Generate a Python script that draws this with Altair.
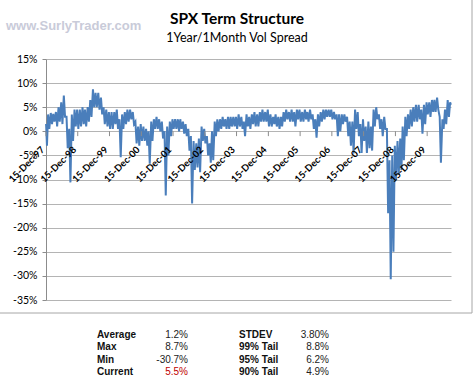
import altair as alt
import pandas as pd

# ---- data (spread in %, monthly high / low) ----
# Dec-1997, then Jan..Dec 1998 .. 2009, then Jan..Sep 2010
month_high = [
    1.5,
    3.5, 3.8, 3.6, 4.0, 5.0, 6.0, 7.4, 3.0, 0.5, 3.5, 4.5, 4.5,      # 1998
    4.5, 5.0, 4.5, 5.0, 6.5, 8.7, 8.0, 8.0, 7.0, 5.0, 4.5, 4.0,      # 1999
    4.0, 4.0, 4.5, 2.5, 3.5, 4.0, 4.5, 4.5, 4.0, 2.0, 1.0, 1.5,      # 2000
    1.0, 0.5, 0.0, 2.0, 2.5, 3.0, 2.5, 2.0, 0.0, 1.0, 2.0, 2.5,      # 2001
    2.5, 2.5, 2.5, 2.0, 1.5, 0.5, -1.0, -2.0, -2.5, -1.5, 1.0, 0.5,  # 2002
    -1.0, -2.5, 0.0, 2.0, 2.5, 2.5, 3.0, 2.5, 3.0, 3.0, 3.0, 3.0,    # 2003
    3.5, 3.0, 2.0, 3.5, 3.0, 3.5, 4.0, 3.5, 4.0, 4.5, 4.0, 4.5,      # 2004
    3.5, 3.0, 3.5, 3.0, 3.0, 4.0, 4.5, 4.0, 4.5, 4.0, 4.5, 4.5,      # 2005
    4.0, 4.5, 4.0, 4.5, 3.5, 2.5, 3.5, 4.0, 4.5, 4.5, 4.5, 4.5,      # 2006
    4.0, 3.5, 3.5, 3.5, 3.5, 3.0, 2.0, 2.0, 4.5, 4.0, 1.5, 2.5,      # 2007
    1.0, 2.0, 1.0, 4.5, 5.0, 3.5, 2.5, 3.0, 0.5, -6.0, -5.0, -3.0,   # 2008
    -2.0, -1.5, 1.0, 3.0, 3.5, 4.5, 5.0, 5.5, 5.5, 4.5, 5.5, 6.0,    # 2009
    6.0, 6.5, 6.5, 7.0, 3.0, 2.5, 4.5, 6.5, 6.0,                     # 2010
]
month_low = [
    -3.0,
    0.5, 1.5, 2.0, 1.0, 2.0, 1.5, 3.0, -3.5, -10.6, -2.0, 1.0, 0.5,   # 1998
    1.0, 1.5, 1.0, 2.0, 3.0, 5.0, 5.0, 4.5, 3.5, 1.5, 1.0, 0.5,       # 1999
    0.5, 1.5, 0.5, -5.4, 0.5, 1.5, 2.0, 2.5, 1.5, -2.5, -3.0, -2.0,   # 2000
    -2.0, -3.0, -6.7, -2.0, 0.5, 0.5, 0.0, -1.5, -13.3, -5.0, -1.0, 0.5,  # 2001
    0.5, 0.0, 0.5, -0.5, -1.0, -4.0, -15.0, -8.0, -7.5, -8.5, -2.0, -2.5,  # 2002
    -5.0, -6.5, -6.0, -1.0, 0.0, 0.5, 1.0, 0.5, 0.5, 1.0, 1.0, 0.5,   # 2003
    1.0, 0.5, -1.0, 1.0, 0.5, 1.5, 1.0, 1.0, 2.0, 2.0, 2.0, 1.0,      # 2004
    1.0, 1.5, 1.0, 0.5, 1.0, 2.0, 2.5, 2.0, 2.0, 1.0, 2.5, 2.0,       # 2005
    2.0, 2.5, 2.0, 2.5, 0.5, -1.3, 1.0, 2.0, 2.5, 3.0, 3.0, 2.5,      # 2006
    2.5, -1.0, 0.0, 1.5, 2.0, -1.0, -3.0, -4.6, 0.5, -1.0, -4.5, -2.0,  # 2007
    -4.5, -3.5, -4.0, 1.0, 2.5, 0.5, -1.0, 0.5, -17.0, -30.7, -25.0, -10.0,  # 2008
    -9.0, -8.0, -6.0, -1.0, 0.5, 1.0, 2.0, 2.0, 2.5, -0.5, 1.5, 3.5,  # 2009
    3.0, 4.0, 4.0, 4.5, -6.5, 0.5, 1.5, 3.0, 5.5,                     # 2010
]

tick_dates = ["1997-12-15", "1998-12-15", "1999-12-15", "2000-12-15", "2001-12-15",
              "2002-12-15", "2003-12-15", "2004-12-15", "2005-12-15", "2006-12-15",
              "2007-12-15", "2008-12-15", "2009-12-15"]
tick_labels = ["15-Dec-97", "15-Dec-98", "15-Dec-99", "15-Dec-00", "15-Dec-01",
               "15-Dec-02", "15-Dec-03", "15-Dec-04", "15-Dec-05", "15-Dec-06",
               "15-Dec-07", "15-Dec-08", "15-Dec-09"]
y_ticks = [15, 10, 5, 0, -5, -10, -15, -20, -25, -30, -35]

stat_left_names = ["Average", "Max", "Min", "Current"]
stat_left_values = ["1.2%", "8.7%", "-30.7%", "5.5%"]
stat_right_names = ["STDEV", "99% Tail", "95% Tail", "90% Tail"]
stat_right_values = ["3.80%", "8.8%", "6.2%", "4.9%"]

title_text = "SPX Term Structure"
subtitle_text = "1Year/1Month Vol Spread"
watermark_text = "www.SurlyTrader.com"

# ---- build table ----
rows = []
n = len(month_high)
for i, (hi, lo) in enumerate(zip(month_high, month_low)):
    yr = 1997 + (11 + i) // 12
    mo = (11 + i) % 12 + 1
    if i == 0:
        d1, d2 = 16, 26
    elif i == n - 1:
        d1, d2 = 5, 14
    else:
        d1, d2 = 8, 22
    rows.append({"date": f"{yr}-{mo:02d}-{d1:02d}", "spread": hi})
    rows.append({"date": f"{yr}-{mo:02d}-{d2:02d}", "spread": lo})
df = pd.DataFrame(rows)
ticks_df = pd.DataFrame({"date": tick_dates, "label": tick_labels,
                         "zero": [0] * len(tick_dates),
                         "down": [-1] * len(tick_dates)})

GRID = "#b4b4b4"
BLUE = "#4A7EBB"
FONT = "Lato"

x_scale = alt.Scale(domain=[alt.DateTime(year=1997, month=12, date=15),
                            alt.DateTime(year=2010, month=9, date=15)])
y_scale = alt.Scale(domain=[-35, 15], nice=False, zero=False)
y_axis = alt.Axis(values=y_ticks, tickCount=11,
                  labelExpr="datum.value + '%'",
                  labelOverlap=False, labelFlush=False,
                  grid=True, gridColor=GRID, gridWidth=1, gridOpacity=1,
                  domainColor="#8c8c8c", tickColor="#8c8c8c", tickSize=4,
                  labelPadding=5, labelFont=FONT, labelFontSize=10.5,
                  labelColor="#000000", title=None)

line = alt.Chart(df).mark_line(color=BLUE, strokeWidth=2).encode(
    x=alt.X("date:T", scale=x_scale, axis=None),
    y=alt.Y("spread:Q", scale=y_scale, axis=y_axis, title=None),
)

tick_marks = alt.Chart(ticks_df).mark_rule(color="#8c8c8c", strokeWidth=1).encode(
    x=alt.X("date:T", scale=x_scale, axis=None),
    y=alt.Y("zero:Q", scale=y_scale, axis=y_axis, title=None),
    y2="down:Q",
)

tick_text = alt.Chart(ticks_df).mark_text(
    angle=315, align="right", baseline="middle", xOffset=-3, yOffset=17,
    font=FONT, fontSize=9.5, fontWeight="bold", color="#000000",
).encode(
    x=alt.X("date:T", scale=x_scale, axis=None),
    y=alt.Y("zero:Q", scale=y_scale, axis=y_axis, title=None),
    text="label:N",
)


def label(text, x, y, size, weight="normal", align="left", color="#000000",
          font=FONT, baseline="alphabetic"):
    return alt.Chart(pd.DataFrame({"t": [text]})).mark_text(
        align=align, baseline=baseline, font=font, fontSize=size,
        fontWeight=weight, color=color,
    ).encode(x=alt.value(x), y=alt.value(y), text="t:N")


layers = [line, tick_marks, tick_text]
layers.append(label(title_text, 191, -35, 15.5, "bold", "center"))
layers.append(label(subtitle_text, 191, -17, 12.5, "normal", "center"))
layers.append(label(watermark_text, -40, -29, 13, "bold", "left", "#c9cbd9",
                    "Liberation Sans"))

# frame lines
layers.append(alt.Chart(pd.DataFrame({"a": [0]})).mark_rule(color="#a6a6a6").encode(
    x=alt.value(-46), x2=alt.value(426), y=alt.value(254)))
layers.append(alt.Chart(pd.DataFrame({"a": [0]})).mark_rule(color="#a6a6a6").encode(
    x=alt.value(426), y=alt.value(-59), y2=alt.value(254)))

# stats table
SF = "Liberation Sans"
for k in range(4):
    yy = 279 + 12.3 * k
    layers.append(label(stat_left_names[k], 51, yy, 10, "bold", "left", "#111111", SF))
    layers.append(label(stat_left_values[k], 142, yy, 10, "normal", "right",
                        "#c00000" if k == 3 else "#222222", SF))
    layers.append(label(stat_right_names[k], 193, yy, 10, "bold", "left", "#111111", SF))
    layers.append(label(stat_right_values[k], 283, yy, 10, "normal", "right", "#222222", SF))

chart = alt.layer(*layers).properties(
    width=405, height=241,
    autosize=alt.AutoSizeParams(type="none"),
    padding={"left": 46, "top": 59, "right": 23, "bottom": 77},
    background="white",
).configure_view(stroke=None)

chart.save("out.html", embed_options={"renderer": "svg", "actions": False})
